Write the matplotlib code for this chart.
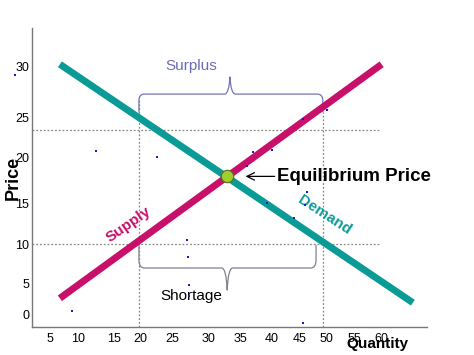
import matplotlib
matplotlib.use("Agg")
import matplotlib.pyplot as plt
from matplotlib.path import Path
from matplotlib.patches import PathPatch

plt.rcParams['font.family'] = ['Liberation Sans', 'DejaVu Sans']

# supply / demand lines (quantity, price)
supply_q = [7.1, 59.6]
supply_p = [3.9, 30.2]
demand_q = [7.1, 64.7]
demand_p = [30.2, 3.4]
equil_q, equil_p = 34.4, 17.6

# price levels and quantities marked with dotted guides
high_price, low_price = 22.8, 10.0
q_left, q_right = 20.0, 50.0

# tick labels and where they sit on the axis
xtick_labels = [5, 10, 15, 20, 25, 30, 35, 40, 45, 50, 55, 60]
xtick_pos = [5.5, 10.0, 15.9, 20.3, 25.4, 31.3, 36.5, 41.7, 46.3, 50.6, 55.2, 59.6]
ytick_labels = [30, 25, 20, 15, 10, 5, 0]
ytick_pos = [30.0, 24.2, 19.7, 14.6, 9.9, 5.6, 2.1]

# stray blue specks seen on the picture
speck_q = [-0.2, 13.0, 22.9, 27.8, 28.0, 28.2, 28.2, 37.6, 38.6, 41.7, 46.8,
           50.7, 40.9, 47.4, 45.3, 47.1, 9.1, 46.8]
speck_p = [29.0, 20.4, 19.8, 10.4, 8.5, 5.4, 4.2, 18.8, 20.3, 20.6, 24.0,
           25.1, 14.6, 15.8, 12.9, 14.4, 2.5, 1.1]

supply_col = '#c8106a'
demand_col = '#0b9b96'

fig = plt.figure(figsize=(4.74, 3.55), dpi=100)
ax = fig.add_axes([0.0675, 0.0789, 0.8333, 0.842])
ax.set_xlim(2.55, 67.0)
ax.set_ylim(0.67, 34.27)
for s in ['top', 'right']:
    ax.spines[s].set_visible(False)
for s in ['left', 'bottom']:
    ax.spines[s].set_color('#777777')
    ax.spines[s].set_linewidth(1.0)

ax.set_xticks(xtick_pos)
ax.set_xticklabels([str(v) for v in xtick_labels], fontsize=9)
ax.set_yticks(ytick_pos)
ax.set_yticklabels([str(v) for v in ytick_labels], fontsize=9)
ax.tick_params(axis='both', length=0)
ax.tick_params(axis='x', pad=4)
ax.tick_params(axis='y', pad=2)

# dotted guides
dot = dict(color='#888888', linestyle=(0, (1.5, 1.5)), linewidth=0.9)
ax.hlines([high_price, low_price], 2.55, 59.1, **dot)
ax.vlines(q_left, 0.67, 26.2, **dot)
ax.vlines(q_right, 0.67, 24.8, **dot)

ax.plot(demand_q, demand_p, color=demand_col, lw=5, solid_capstyle='butt', zorder=3)
ax.plot(supply_q, supply_p, color=supply_col, lw=5, solid_capstyle='butt', zorder=4)
ax.scatter([equil_q], [equil_p], s=80, color='#9fce2e', edgecolor='#556b1a',
           linewidth=0.8, zorder=5)

ax.scatter(speck_q, speck_p, s=3, color='#1a1acc', marker='s', zorder=6,
           clip_on=False, linewidths=0)


def brace(x0, x1, y_end, y_mid, y_tip, x_tip, color):
    dx = 0.9
    dy = (y_end - y_mid) * 0.35
    w = 0.5
    verts = [(x0, y_end), (x0, y_mid + dy), (x0, y_mid), (x0 + dx, y_mid),
             (x_tip - dx, y_mid), (x_tip - w * 0.3, y_mid), (x_tip, y_tip),
             (x_tip + w * 0.3, y_mid), (x_tip + dx, y_mid),
             (x1 - dx, y_mid), (x1, y_mid), (x1, y_mid + dy), (x1, y_end)]
    codes = [Path.MOVETO, Path.LINETO, Path.CURVE3, Path.CURVE3,
             Path.LINETO, Path.CURVE3, Path.CURVE3,
             Path.CURVE3, Path.CURVE3,
             Path.LINETO, Path.CURVE3, Path.CURVE3, Path.LINETO]
    ax.add_patch(PathPatch(Path(verts, codes), fill=False, edgecolor=color,
                           lw=0.9, zorder=2))


brace(20.0, 50.0, 24.8, 26.85, 28.8, 34.85, '#7474b4')
brace(20.0, 48.9, 9.9, 7.3, 4.8, 34.4, '#808090')

ax.text(28.5, 30.0, 'Surplus', color='#6b6bb5', fontsize=11, ha='center', va='center')
ax.text(28.5, 4.1, 'Shortage', color='black', fontsize=11, ha='center', va='center')

ax.annotate('Equilibrium Price', xy=(37.4, equil_p), xytext=(42.6, equil_p),
            fontsize=13.5, fontweight='bold', ha='left', va='center',
            arrowprops=dict(arrowstyle='->', color='black', lw=0.9,
                            shrinkA=0, shrinkB=0))

ax.text(18.3, 12.2, 'Supply', color=supply_col, fontsize=11, fontweight='bold',
        rotation=35, ha='center', va='center', rotation_mode='anchor')
ax.text(50.2, 13.3, 'Demand', color=demand_col, fontsize=11, fontweight='bold',
        rotation=-33, ha='center', va='center', rotation_mode='anchor')

fig.text(13 / 474, 1 - 178 / 355, 'Price', fontsize=13, fontweight='bold',
         rotation=90, ha='center', va='center')
fig.text(377 / 474, 1 - 344 / 355, 'Quantity', fontsize=11, fontweight='bold',
         ha='center', va='center')

fig.savefig('out.png', dpi=100)
